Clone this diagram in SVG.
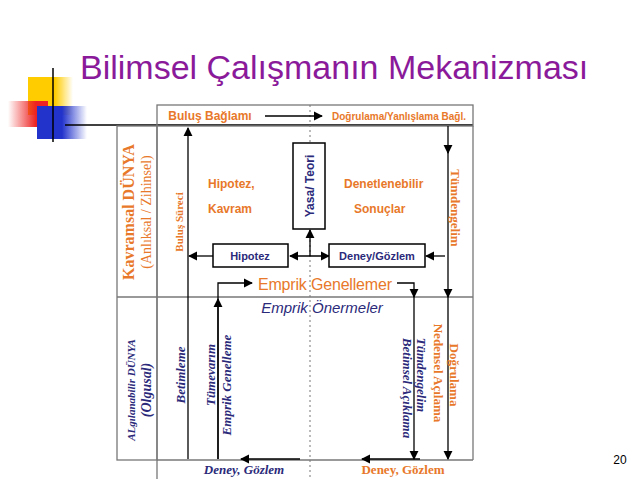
<svg xmlns="http://www.w3.org/2000/svg" width="638" height="479" viewBox="0 0 638 479">
<defs>
<marker id="a" viewBox="0 0 10 10" refX="9" refY="5" markerWidth="7" markerHeight="7" orient="auto-start-reverse"><path d="M0,0L10,5L0,10z" fill="#000"/></marker>
<linearGradient id="gy" x1="0" x2="1"><stop offset="0.6" stop-color="#FFCC00"/><stop offset="1" stop-color="#FFCC00" stop-opacity="0"/></linearGradient>
<linearGradient id="gr" x1="1" x2="0"><stop offset="0.3" stop-color="#EE2222"/><stop offset="1" stop-color="#EE2222" stop-opacity="0"/></linearGradient>
<linearGradient id="gb" x1="0" x2="1"><stop offset="0.5" stop-color="#2233CC"/><stop offset="1" stop-color="#2233CC" stop-opacity="0"/></linearGradient>
</defs>
<style>
.s{font-family:"Liberation Sans",Arial,sans-serif;font-weight:bold}
.r{font-family:"Liberation Serif","Times New Roman",serif;font-weight:bold}
.o{fill:#E8782A}.n{fill:#2B2A7A}
.b{fill:#fff;stroke:#000;stroke-width:1.5}
.l{stroke:#000;stroke-width:1.3;fill:none}
.g{stroke:#777;stroke-width:1.3;fill:none}
</style>
<rect width="638" height="479" fill="#fff"/>
<g id="deco">
<rect x="28" y="77" width="45" height="38" fill="url(#gy)"/>
<rect x="8" y="101" width="40" height="26" fill="url(#gr)"/>
<rect x="37" y="106" width="50" height="33" fill="url(#gb)"/>
<line x1="53" y1="68" x2="53" y2="142" stroke="#000" stroke-width="1.5"/>
<line x1="65" y1="125" x2="473" y2="125" stroke="#000" stroke-width="1.5"/>
</g>
<text x="80" y="79" font-family="Liberation Sans,Arial,sans-serif" font-size="34" fill="#8B1A9A">Bilimsel Çalışmanın Mekanizması</text>
<g id="frame">
<rect class="g" x="157" y="105" width="316" height="21"/>
<rect class="g" x="117" y="126" width="40" height="334"/>
<line class="g" x1="157" y1="297" x2="473" y2="297"/>
<line class="g" x1="473" y1="126" x2="473" y2="460"/>
<line class="g" x1="157" y1="126" x2="157" y2="479"/>
<line class="g" x1="117" y1="297" x2="157" y2="297"/>
<line class="g" x1="157" y1="460" x2="473" y2="460"/>
<line x1="310" y1="105" x2="310" y2="479" stroke="#777" stroke-width="1" stroke-dasharray="2,3"/>
</g>
<g id="connectors">
<line class="l" x1="265" y1="116" x2="322" y2="116" marker-end="url(#a)"/>
<line class="l" x1="188" y1="459" x2="188" y2="128" marker-end="url(#a)"/>
<line class="l" x1="213" y1="256" x2="189" y2="256" marker-end="url(#a)"/>
<line class="l" x1="290" y1="256" x2="329" y2="256" marker-start="url(#a)" marker-end="url(#a)"/>
<line class="l" x1="310" y1="256" x2="310" y2="230" marker-end="url(#a)"/>
<line class="l" x1="445" y1="256" x2="426" y2="256" marker-end="url(#a)"/>
<line class="l" x1="448" y1="126" x2="448" y2="153" marker-end="url(#a)"/>
<line class="l" x1="448" y1="150" x2="448" y2="297" marker-end="url(#a)"/>
<line class="l" x1="448" y1="295" x2="448" y2="459" marker-end="url(#a)"/>
<polyline class="l" points="218,459 218,283 252,283" marker-end="url(#a)"/>
<line class="l" x1="218" y1="459" x2="218" y2="299" marker-end="url(#a)"/>
<polyline class="l" points="397,283 414,283 414,297" marker-end="url(#a)"/>
<line class="l" x1="414" y1="296" x2="414" y2="459" marker-end="url(#a)"/>
<line class="l" x1="300" y1="459" x2="241" y2="459" marker-end="url(#a)"/>
<line class="l" x1="420" y1="459" x2="362" y2="459" marker-end="url(#a)"/>
</g>
<g id="yasa"><rect class="b" x="293" y="143" width="32" height="86"/><text class="s n" font-size="12" transform="translate(314,186) rotate(-90)" text-anchor="middle">Yasa/ Teori</text></g>
<g id="hipotez"><rect class="b" x="213" y="244" width="75" height="23"/><text class="s n" font-size="11" x="250" y="260" text-anchor="middle">Hipotez</text></g>
<g id="deney"><rect class="b" x="329" y="244" width="96" height="23"/><text class="s n" font-size="11" x="377" y="260" text-anchor="middle">Deney/Gözlem</text></g>
<g id="labels">
<text class="s o" font-size="12" x="210" y="120" text-anchor="middle">Buluş Bağlamı</text>
<text class="s o" font-size="10" x="399" y="120" text-anchor="middle">Doğrulama/Yanlışlama Bağl.</text>
<text class="s o" font-size="12" x="208" y="188">Hipotez,</text>
<text class="s o" font-size="12" x="208" y="213">Kavram</text>
<text class="s o" font-size="12" x="344" y="188">Denetlenebilir</text>
<text class="s o" font-size="12" x="354" y="213">Sonuçlar</text>
<text font-family="Liberation Sans,Arial,sans-serif" font-size="16" fill="#E8782A" x="325" y="290" text-anchor="middle" textLength="134">Emprik Genellemer</text>
<text font-family="Liberation Sans,Arial,sans-serif" font-style="italic" font-size="15" fill="#2B2A7A" x="322" y="313" text-anchor="middle">Emprik Önermeler</text>
<text class="r o" font-size="11" transform="translate(183,222) rotate(-90)" text-anchor="middle">Buluş Süreci</text>
<text class="r o" font-size="13" transform="translate(451,208) rotate(90)" text-anchor="middle">Tümdengelim</text>
<text class="r o" font-size="16" transform="translate(134,212) rotate(-90)" text-anchor="middle">Kavramsal  DÜNYA</text>
<text font-family="Liberation Serif,serif" font-size="14" fill="#E8782A" transform="translate(151,212) rotate(-90)" text-anchor="middle">(Anlıksal / Zihinsel)</text>
<text class="r n" font-size="11" font-style="italic" transform="translate(135,390) rotate(-90)" text-anchor="middle">ALgılanabilir DÜNYA</text>
<text class="r n" font-size="14" font-style="italic" transform="translate(151,390) rotate(-90)" text-anchor="middle">(Olgusal)</text>
<text class="r n" font-size="13" font-style="italic" transform="translate(185,375) rotate(-90)" text-anchor="middle">Betimleme</text>
<text class="r n" font-size="13" font-style="italic" transform="translate(215,375) rotate(-90)" text-anchor="middle">Tümevarım</text>
<text class="r n" font-size="13" font-style="italic" transform="translate(231,385) rotate(-90)" text-anchor="middle">Emprik Genelleme</text>
<text class="r n" font-size="13" font-style="italic" transform="translate(403,388) rotate(90)" text-anchor="middle">Betimsel Açıklama</text>
<text class="r n" font-size="13" font-style="italic" transform="translate(417,375) rotate(90)" text-anchor="middle">Tümdengelim</text>
<text class="r o" font-size="13" transform="translate(434,373) rotate(90)" text-anchor="middle">Nedensel Açılama</text>
<text class="r o" font-size="13" transform="translate(450,375) rotate(90)" text-anchor="middle">Doğrulama</text>
<text class="r n" font-size="13" font-style="italic" x="244" y="474" text-anchor="middle">Deney, Gözlem</text>
<text class="r o" font-size="13" x="403" y="474" text-anchor="middle">Deney, Gözlem</text>
<text font-family="Liberation Sans,Arial,sans-serif" font-size="12" x="620" y="464" text-anchor="middle">20</text>
</g>
</svg>
